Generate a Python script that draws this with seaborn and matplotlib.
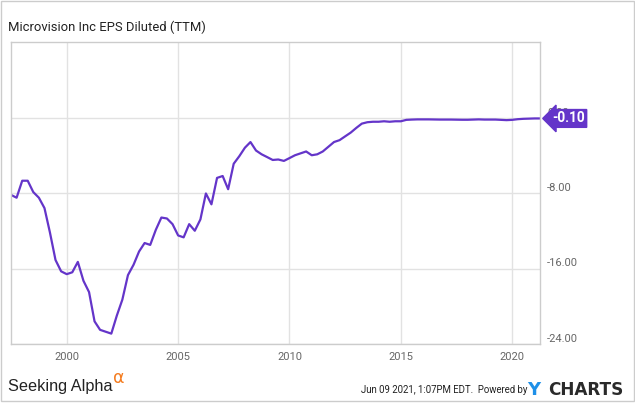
"""
Microvision Inc EPS Diluted (TTM) - YCharts style line chart
"""

import pandas as pd
import matplotlib.pyplot as plt
import matplotlib.dates as mdates
import seaborn as sns

# Quarterly EPS (TTM), starting Q3 1997
start_date = '1997-07-01'
eps = [
    -8.2, -8.5, -6.7, -6.7, -7.9, -8.5, -9.6, -12.2, -15.1, -16.3,
    -16.6, -16.4, -15.3, -17.3, -18.5, -21.6, -22.5, -22.7, -22.9, -21.0,
    -19.3, -16.7, -15.6, -14.2, -13.3, -13.5, -11.9, -10.6, -10.7, -11.3,
    -12.5, -12.7, -11.3, -12.0, -10.8, -8.05, -9.2, -6.4, -6.2, -7.6,
    -4.9, -4.1, -3.2, -2.6, -3.5, -3.9, -4.2, -4.5, -4.45, -4.6,
    -4.3, -4.0, -3.8, -3.6, -4.0, -3.9, -3.6, -3.1, -2.6, -2.4,
    -2.0, -1.6, -1.1, -0.65, -0.5, -0.45, -0.45, -0.4, -0.45, -0.4,
    -0.4, -0.25, -0.22, -0.2, -0.2, -0.2, -0.21, -0.22, -0.22, -0.22,
    -0.23, -0.24, -0.24, -0.22, -0.2, -0.22, -0.22, -0.22, -0.25, -0.28,
    -0.25, -0.18, -0.14, -0.12, -0.1, -0.1,
]
last_label = '-0.10'

y_ticks = [0, -8, -16, -24]
y_tick_labels = ['0.00', '-8.00', '-16.00', '-24.00']
x_tick_years = [2000, 2005, 2010, 2015, 2020]

df = pd.DataFrame({
    'date': pd.date_range(start_date, periods=len(eps), freq='QS'),
    'eps': eps,
})

sns.set_style('white')
plt.rcParams['font.family'] = ['Roboto', 'DejaVu Sans']

purple = '#6435c9'
grid_c = '#e2e2e2'
spine_c = '#cccccc'
text_c = '#666666'

fig = plt.figure(figsize=(6.35, 4.03), dpi=100)
ax = fig.add_axes([11 / 635, 1 - 344 / 403, 529 / 635, 302 / 403])

sns.lineplot(data=df, x='date', y='eps', color=purple, linewidth=1.6, ax=ax)

ax.set_xlim(pd.Timestamp('1997-07-01'), df['date'].iloc[-1])
ax.set_ylim(-24, 8)
ax.set_xlabel('')
ax.set_ylabel('')

ax.set_xticks([pd.Timestamp(f'{y}-01-01') for y in x_tick_years])
ax.xaxis.set_major_formatter(mdates.DateFormatter('%Y'))
ax.set_yticks(y_ticks)
ax.set_yticklabels(y_tick_labels)
ax.yaxis.tick_right()

ax.tick_params(axis='both', length=0, colors=text_c, labelsize=8)
ax.tick_params(axis='x', pad=6)
ax.tick_params(axis='y', pad=5)
for lbl in ax.get_yticklabels():
    lbl.set_va('bottom')

ax.grid(True, color=grid_c, linewidth=1)
for s in ax.spines.values():
    s.set_color(spine_c)
    s.set_linewidth(1)

# last value tag (covers the 0.00 label as in the original)
ax.annotate(last_label, xy=(df['date'].iloc[-1], eps[-1]), xytext=(20.5, 0),
            textcoords='offset points', ha='center', va='center',
            fontsize=9.8, fontweight='bold', color='white',
            bbox=dict(boxstyle='larrow,pad=0.14', fc=purple, ec=purple),
            annotation_clip=False, zorder=5)

# title and footer
fig.text(8 / 635, 1 - 27 / 403, 'Microvision Inc EPS Diluted (TTM)',
         fontsize=9.4, color='#222222', va='center', ha='left')
fig.text(8 / 635, 1 - 386 / 403, 'Seeking Alpha', fontsize=11.7,
         color='#222222', va='center', ha='left', family='Liberation Sans')
fig.text(113 / 635, 1 - 378 / 403, '\u03b1', fontsize=12.5, color='#f47c20',
         va='center', ha='left', family='DejaVu Sans')
fig.text(527 / 635, 1 - 390 / 403, 'Jun 09 2021, 1:07PM EDT.  Powered by',
         fontsize=6.9, color='#222222', va='center', ha='right')
fig.text(527 / 635, 1 - 390 / 403, 'Y', fontsize=13, fontweight='bold',
         color='#1e90e8', va='center', ha='left', family='DejaVu Sans')
fig.text(548 / 635, 1 - 390 / 403, 'CHARTS', fontsize=12.2, fontweight='bold',
         color='#2a2a2a', va='center', ha='left', family='DejaVu Sans')

# outer frame
fig.add_artist(plt.Rectangle((0.5 / 635, 2 / 403), 633 / 635, 400 / 403,
                             transform=fig.transFigure, fill=False,
                             ec='#cccccc', lw=1))

plt.savefig('out.png', dpi=100)
